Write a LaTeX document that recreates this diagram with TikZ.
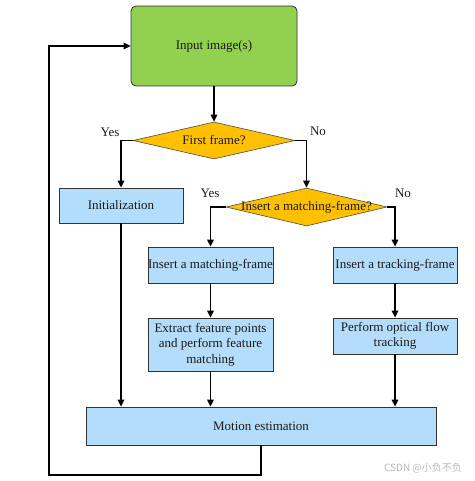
\documentclass[tikz,border=0pt]{standalone}
\usepackage{fontspec}
\setmainfont{Liberation Serif}
\newfontfamily\cjkfont{Noto Sans CJK SC}
\usepackage{tikz}
\usetikzlibrary{
	positioning,
	arrows.meta,
	shapes.geometric
  }
\definecolor{boxgreen}{HTML}{92D050}
\definecolor{boxorange}{HTML}{FFC000}
\definecolor{boxblue}{HTML}{B4DDFC}
\definecolor{textdark}{HTML}{1A1A1A}
\tikzstyle{blk}=[draw=black!80,fill=boxblue,line width=0.8pt,inner sep=0pt,align=center,text=textdark]
\tikzstyle{dec}=[diamond,draw=black!70,fill=boxorange,line width=0.6pt,inner sep=0pt]
\tikzstyle{ans}=[text=textdark,inner sep=0pt]

\begin{document}
\begin{tikzpicture}[x=1pt, y=-1pt, font=\fontsize{13}{15.5}\selectfont, line width=1.4pt, >={Triangle[length=7pt,width=6.5pt]}]
	\useasboundingbox (0,0) rectangle (474,481);
	\node[blk, fill=boxgreen, rounded corners=5pt, minimum width=166pt, minimum height=80pt] (input) at (214,46) {Input image(s)};
	\node[dec, minimum width=162pt, minimum height=37pt, label={[ans]center:First frame?}] (first) at (214,140.5) {};
	\node[blk, minimum width=124pt, minimum height=35pt] (init) at (121,205.5) {Initialization};
	\node[dec, minimum width=161pt, minimum height=38pt, label={[ans]center:Insert a matching-frame?}] (ask) at (306.5,207) {};
	\node[blk, minimum width=125pt, minimum height=36pt] (mframe) at (210.5,265) {Insert a matching-frame};
	\node[blk, minimum width=124pt, minimum height=36pt] (tframe) at (395,265) {Insert a tracking-frame};
	\node[blk, minimum width=125pt, minimum height=53pt] (extract) at (210.5,344.5) {Extract feature points\\and perform feature\\matching};
	\node[blk, minimum width=124pt, minimum height=36pt] (flow) at (395,336) {Perform optical flow\\tracking};
	\node[blk, minimum width=350pt, minimum height=38pt] (motion) at (261,426) {Motion estimation};
	\node[ans] (yes1) at (110,132) {Yes};
	\node[ans] (no1) at (318,131) {No};
	\node[ans] (yes2) at (210,193) {Yes};
	\node[ans] (no2) at (403,193) {No};
	\coordinate (back) at (49,475);
	\node[text=black!28, inner sep=0pt] (mark) at (423,468) {\cjkfont\fontsize{10}{12}\selectfont CSDN @小负不负};
	\draw[->] (input) to (first);
	\draw[->] (first.west) -| (init.north);
	\draw[->] (first.east) -| (ask.north);
	\draw[->] (ask.west) -| (mframe.north);
	\draw[->] (ask.east) -| (tframe.north);
	\draw[->] (mframe) to (extract);
	\draw[->] (tframe) to (flow);
	\draw[->] (init.south) to (init.south |- motion.north);
	\draw[->] (extract.south) to (extract.south |- motion.north);
	\draw[->] (flow.south) to (flow.south |- motion.north);
	\draw[->] (motion.south) |- (back) |- (input.west);
\end{tikzpicture}
\end{document}
